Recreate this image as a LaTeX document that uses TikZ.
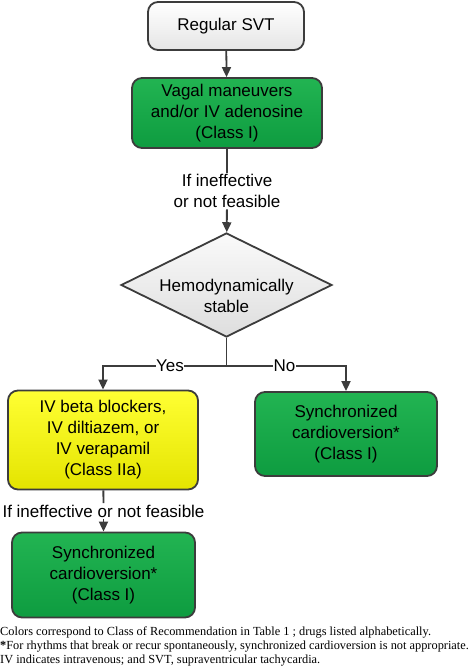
\documentclass[tikz,border=0pt]{standalone}
\usepackage{fontspec}
\setmainfont{Liberation Sans}
\newfontfamily\capfont{Liberation Serif}
\usetikzlibrary{shapes.geometric,arrows.meta}
\definecolor{edge}{HTML}{3C3C3C}
\definecolor{gtop}{HTML}{22B452}
\definecolor{gbot}{HTML}{0E9C40}
\definecolor{ytop}{HTML}{FFFF33}
\definecolor{ybot}{HTML}{E4E400}
\tikzset{
  base/.style={draw=edge,line width=1.8pt,rounded corners=10pt,align=center,
    font=\fontsize{17}{21}\selectfont,inner sep=0pt},
  whitebox/.style={base,top color=white,bottom color=black!10},
  greenbox/.style={base,top color=gtop,bottom color=gbot},
  yellowbox/.style={base,top color=ytop,bottom color=ybot},
  decision/.style={diamond,draw=edge,line width=1.8pt,top color=black!2,bottom color=black!13,inner sep=0pt},
  lbl/.style={align=center,font=\fontsize{17}{21}\selectfont,inner sep=1.5pt},
  conn/.style={draw=edge,line width=1.8pt},
  arr/.style={conn,-{Triangle[width=9pt,length=10pt]}},
  captext/.style={anchor=base west,inner sep=0pt,font=\capfont\fontsize{12.35}{14}\selectfont}
}
\begin{document}
\begin{tikzpicture}[x=1pt,y=-1pt]
\useasboundingbox (0,0) rectangle (474,666);
\node[whitebox,minimum width=156pt,minimum height=48pt] (start) at (226,26) {Regular SVT};
\node[greenbox,minimum width=190pt,minimum height=70pt] (vagal) at (227,113) {Vagal maneuvers\\and/or IV adenosine\\(Class I)};
\node[lbl] (if1) at (227,191) {If ineffective\\or not feasible};
\node[decision,minimum width=211pt,minimum height=104pt] (hemo) at (226.5,285) {};
\node[lbl] (hemotxt) at (226.5,296) {Hemodynamically\\stable};
\coordinate (split) at (226.5,366);
\node[yellowbox,minimum width=190pt,minimum height=99pt] (beta) at (103,440) {IV beta blockers,\\IV diltiazem, or\\IV verapamil\\(Class IIa)};
\node[greenbox,minimum width=182pt,minimum height=84pt] (cardio1) at (346,434) {Synchronized\\cardioversion*\\(Class I)};
\node[lbl] (if2) at (103.5,511) {If ineffective or not feasible};
\node[greenbox,minimum width=183pt,minimum height=85pt] (cardio2) at (103.5,575) {Synchronized\\cardioversion*\\(Class I)};
\draw[arr] (start) -- (vagal);
\draw[conn] (vagal) -- (if1);
\draw[arr] (if1) -- (hemo);
\draw[conn] (hemo.south) -- (split);
\draw[arr] (split) -| node[pos=0.229,fill=white,lbl,inner sep=0.5pt]{Yes} (beta.north);
\draw[arr] (split) -| node[pos=0.243,fill=white,lbl,inner sep=0.5pt]{No} (cardio1.north);
\draw[conn] (beta) -- (if2);
\draw[arr] (if2) -- (cardio2);
\node[captext] (c1) at (0,635) {Colors correspond to Class of Recommendation in Table 1 ; drugs listed alphabetically.};
\node[captext] (c2) at (0,649) {\textbf{*}For rhythms that break or recur spontaneously, synchronized cardioversion is not appropriate.};
\node[captext] (c3) at (0,663) {IV indicates intravenous; and SVT, supraventricular tachycardia.};
\end{tikzpicture}
\end{document}
